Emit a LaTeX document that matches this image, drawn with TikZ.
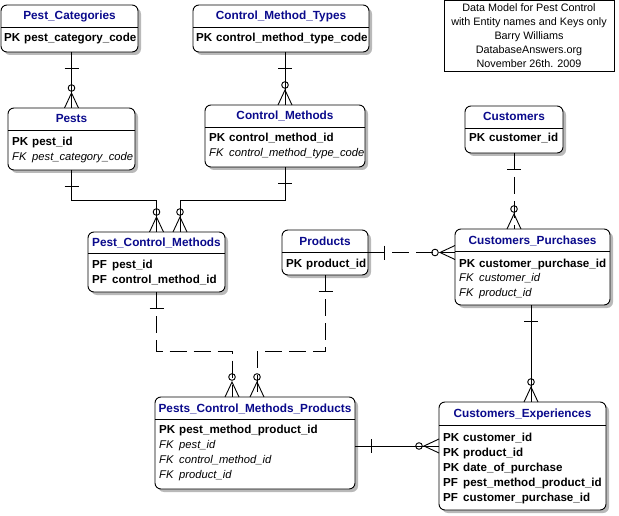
\documentclass[tikz,border=0pt]{standalone}
\usepackage{fontspec}
\setmainfont{Liberation Sans}
\usetikzlibrary{calc,shadows}
\definecolor{titleblue}{RGB}{10,10,140}
\definecolor{shadowgray}{RGB}{185,185,185}
\tikzset{
  entbox/.style={draw, line width=0.9pt, rounded corners=6pt, fill=white, inner sep=0pt, outer sep=0pt,
     drop shadow={shadow xshift=3pt, shadow yshift=-3pt, fill=shadowgray, opacity=1}},
  hline/.style={line width=0.9pt},
  enttitle/.style={anchor=base, inner sep=0pt, text=titleblue, font=\bfseries\fontsize{11.8}{13}\selectfont},
  rowb/.style={anchor=base west, inner sep=0pt, font=\bfseries\fontsize{11.6}{13}\selectfont},
  rowi/.style={anchor=base west, inner sep=0pt, font=\itshape\fontsize{11.2}{13}\selectfont},
  rel/.style={line width=0.9pt},
  reld/.style={line width=0.9pt, dash pattern=on 17pt off 7pt},
  notebox/.style={draw, line width=0.9pt, inner sep=0pt, align=center, font=\fontsize{10.8}{14}\selectfont}
}
% entity: name, x1, y1, x2, y2, header line y, title
\newcommand\ent[7]{%
  \node[entbox, minimum width={(#4-#2)*1pt}, minimum height={(#5-#3)*1pt}, anchor=north west] (#1) at (#2,#3) {};
  \draw[hline] (#2,#6) -- (#4,#6);
  \node[enttitle] (#1-t) at ({(#2+#4)/2},{(#3+#6)/2+4}) {#7};
}
% row: entity name, index, x, y, key, text, style
\newcommand\erow[7]{%
  \node[#7] (#1-k#2) at (#3,#4+4) {#5};
  \node[#7] (#1-n#2) at (#3+20,#4+4) {#6};
}
\newcommand\barD[1]{\draw[rel] ([shift={(-7,16)}]#1) -- ([shift={(7,16)}]#1);}
\newcommand\barR[1]{\draw[rel] ([shift={(16,-7)}]#1) -- ([shift={(16,7)}]#1);}
\newcommand\crowU[1]{\draw[rel] ([shift={(0,-20)}]#1) circle (3.3pt);
  \draw[rel] ([shift={(-7,0)}]#1) -- ([shift={(0,-15)}]#1) -- ([shift={(7,0)}]#1);}
\newcommand\crowL[1]{\draw[rel] ([shift={(-20,0)}]#1) circle (3.3pt);
  \draw[rel] ([shift={(0,-7)}]#1) -- ([shift={(-15,0)}]#1) -- ([shift={(0,7)}]#1);}
\begin{document}
\begin{tikzpicture}[x=1pt, y=-1pt]
\useasboundingbox (0,0) rectangle (619,516);

% note
\node[notebox, minimum width=170pt, minimum height=71pt] (note) at (529,35.5)
  {Data Model for Pest Control\\with Entity names and Keys only\\Barry Williams\\DatabaseAnswers.org\\November 26th. 2009};

% entities
\ent{pc}{1}{5}{138}{52}{27}{Pest\_Categories}
\erow{pc}{1}{4}{38}{PK}{pest\_category\_code}{rowb}

\ent{cmt}{193}{5}{369}{52}{27}{Control\_Method\_Types}
\erow{cmt}{1}{196}{38}{PK}{control\_method\_type\_code}{rowb}

\ent{pests}{8}{108}{135}{170}{130}{Pests}
\erow{pests}{1}{12}{142}{PK}{pest\_id}{rowb}
\erow{pests}{2}{12}{157}{FK}{pest\_category\_code}{rowi}

\ent{cm}{205}{105}{365}{167}{127}{Control\_Methods}
\erow{cm}{1}{209}{138}{PK}{control\_method\_id}{rowb}
\erow{cm}{2}{209}{153}{FK}{control\_method\_type\_code}{rowi}

\ent{pcm}{88}{232}{225}{292}{253}{Pest\_Control\_Methods}
\erow{pcm}{1}{92}{264}{PF}{pest\_id}{rowb}
\erow{pcm}{2}{92}{279}{PF}{control\_method\_id}{rowb}

\ent{prod}{282}{230}{368}{275}{252}{Products}
\erow{prod}{1}{286}{263}{PK}{product\_id}{rowb}

\ent{cust}{465}{106}{563}{153}{128}{Customers}
\erow{cust}{1}{469}{138}{PK}{customer\_id}{rowb}

\ent{cp}{455}{229}{610}{305}{251}{Customers\_Purchases}
\erow{cp}{1}{459}{263}{PK}{customer\_purchase\_id}{rowb}
\erow{cp}{2}{459}{277}{FK}{customer\_id}{rowi}
\erow{cp}{3}{459}{292}{FK}{product\_id}{rowi}

\ent{pcmp}{155}{397}{355}{489}{419}{Pests\_Control\_Methods\_Products}
\erow{pcmp}{1}{159}{429}{PK}{pest\_method\_product\_id}{rowb}
\erow{pcmp}{2}{159}{444}{FK}{pest\_id}{rowi}
\erow{pcmp}{3}{159}{459}{FK}{control\_method\_id}{rowi}
\erow{pcmp}{4}{159}{474}{FK}{product\_id}{rowi}

\ent{ce}{439}{402}{606}{510}{425}{Customers\_Experiences}
\erow{ce}{1}{443}{437}{PK}{customer\_id}{rowb}
\erow{ce}{2}{443}{452}{PK}{product\_id}{rowb}
\erow{ce}{3}{443}{467}{PK}{date\_of\_purchase}{rowb}
\erow{ce}{4}{443}{482}{PF}{pest\_method\_product\_id}{rowb}
\erow{ce}{5}{443}{497}{PF}{customer\_purchase\_id}{rowb}

% connectors
\draw[rel] (pests.north |- pc.south) coordinate (c1a) -- (pests.north) coordinate (c1b);
\barD{c1a} \crowU{c1b}

\draw[rel] (cm.north |- cmt.south) coordinate (c2a) -- (cm.north) coordinate (c2b);
\barD{c2a} \crowU{c2b}

\coordinate (c3a) at (pests.south);
\coordinate (c3b) at (pcm.north);
\draw[rel] (c3a) -- ++(0,30) -| (c3b);
\barD{c3a} \crowU{c3b}

\coordinate (c4a) at (cm.south);
\coordinate (c4b) at ([xshift=23.5pt]pcm.north);
\draw[rel] (c4a) -- ++(0,33) -| (c4b);
\barD{c4a} \crowU{c4b}

\coordinate (c5a) at (prod.east);
\coordinate (c5b) at (prod.east -| cp.west);
\draw[reld] (c5a) -- (c5b);
\barR{c5a} \crowL{c5b}

\coordinate (c6a) at (cust.south);
\coordinate (c6b) at (cust.south |- cp.north);
\draw[reld] (c6a) -- (c6b);
\barD{c6a} \crowU{c6b}

\coordinate (c7a) at (pcm.south);
\coordinate (c7b) at ([xshift=-23pt]pcmp.north);
\draw[reld] (c7a) -- ++(0,59) -| (c7b);
\barD{c7a} \crowU{c7b}

\coordinate (c8a) at ([xshift=0.5pt]prod.south);
\coordinate (c8b) at ([xshift=2pt]pcmp.north);
\draw[reld] (c8a) -- ++(0,76) -| (c8b);
\barD{c8a} \crowU{c8b}

\coordinate (c9a) at ([xshift=-1.5pt]cp.south);
\coordinate (c9b) at (c9a |- ce.north);
\draw[rel] (c9a) -- (c9b);
\barD{c9a} \crowU{c9b}

\coordinate (c10a) at ([yshift=-3pt]pcmp.east);
\coordinate (c10b) at (c10a -| ce.west);
\draw[rel] (c10a) -- (c10b);
\barR{c10a} \crowL{c10b}
\end{tikzpicture}
\end{document}
